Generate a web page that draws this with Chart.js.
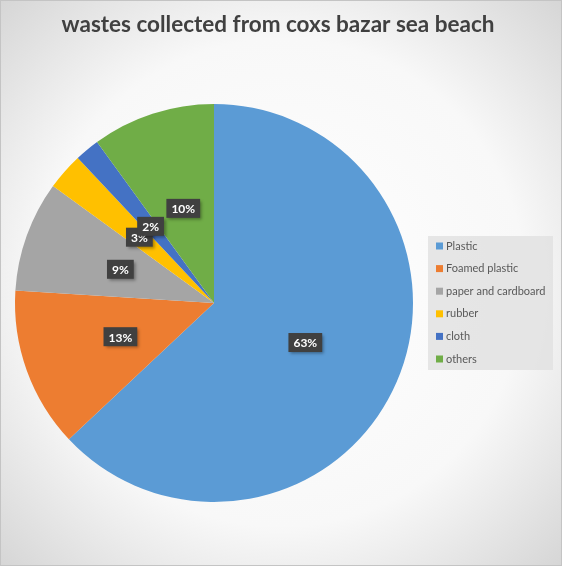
<!DOCTYPE html>
<html>
<head>
<meta charset="utf-8">
<script src="https://cdn.jsdelivr.net/npm/chart.js@4.4.1/dist/chart.umd.min.js"></script>
<style>
  html, body { margin: 0; padding: 0; background: #fff; }
  #wrap { width: 560px; height: 564px; border: 1px solid #c4c4c4; position: relative; }
</style>
</head>
<body>
<div id="wrap"><canvas id="pie-chartcanvas" width="560" height="564"></canvas></div>
<script>
var chartTitle = "wastes collected from coxs bazar sea beach";
var categories = ["Plastic", "Foamed plastic", "paper and cardboard", "rubber", "cloth", "others"];
var percentages = [63, 13, 9, 3, 2, 10];
var sliceColors = ["#5B9BD5", "#ED7D31", "#A5A5A5", "#FFC000", "#4472C4", "#70AD47"];

// background with soft radial shading + title
var backgroundPlugin = {
  id: "bg",
  beforeDraw: function (chart) {
    var c = chart.ctx, w = chart.width, h = chart.height;
    var g = c.createRadialGradient(w / 2, h / 2, 0, w / 2, h / 2, Math.max(w, h) * 0.72);
    g.addColorStop(0, "#ffffff");
    g.addColorStop(0.6, "#f8f8f8");
    g.addColorStop(1, "#d4d4d4");
    c.save();
    c.fillStyle = g;
    c.fillRect(0, 0, w, h);
    c.font = "bold 22.5px Lato";
    c.fillStyle = "#404040";
    c.textAlign = "center";
    c.textBaseline = "middle";
    c.fillText(chartTitle, 277, 24);
    c.restore();
  }
};

// dark boxed percentage labels at the middle of each slice
var labelPlugin = {
  id: "boxLabels",
  afterDatasetsDraw: function (chart) {
    var c = chart.ctx;
    var meta = chart.getDatasetMeta(0);
    c.save();
    c.font = "bold 12px Lato";
    c.textAlign = "center";
    c.textBaseline = "middle";
    meta.data.forEach(function (arc, i) {
      var p = arc.getCenterPoint();
      var txt = percentages[i] + "%";
      var tw = c.measureText(txt).width;
      var bw = tw + 10, bh = 19;
      c.shadowColor = "rgba(0,0,0,0.35)";
      c.shadowOffsetX = 2;
      c.shadowOffsetY = 2;
      c.shadowBlur = 3;
      c.fillStyle = "#404040";
      c.fillRect(p.x - bw / 2, p.y - bh / 2, bw, bh);
      c.shadowColor = "transparent";
      c.fillStyle = "#ffffff";
      c.fillText(txt, p.x, p.y + 1);
    });
    c.restore();
  }
};

// legend box on the right
var legendPlugin = {
  id: "sideLegend",
  afterDraw: function (chart) {
    var c = chart.ctx;
    var x0 = 427, y0 = 235, w = 125, h = 134;
    c.save();
    c.fillStyle = "rgba(226,226,226,0.85)";
    c.fillRect(x0, y0, w, h);
    c.font = "11px Lato";
    c.textBaseline = "middle";
    chart.data.labels.forEach(function (lab, i) {
      var y = y0 + 10 + i * 22.6;
      c.fillStyle = chart.data.datasets[0].backgroundColor[i];
      c.fillRect(x0 + 8, y - 3.5, 7, 7);
      c.fillStyle = "#595959";
      c.fillText(lab, x0 + 18, y);
    });
    c.restore();
  }
};

var ctx1 = document.getElementById("pie-chartcanvas");
var chart1 = new Chart(ctx1, {
  type: "pie",
  data: {
    labels: categories,
    datasets: [{
      label: "wastes",
      data: percentages,
      backgroundColor: sliceColors,
      borderWidth: 0
    }]
  },
  options: {
    responsive: false,
    animation: false,
    layout: { padding: { left: 14, right: 148, top: 103, bottom: 63 } },
    plugins: {
      title: { display: false },
      legend: { display: false },
      tooltip: { enabled: false }
    }
  },
  plugins: [backgroundPlugin, labelPlugin, legendPlugin]
});
</script>
</body>
</html>
